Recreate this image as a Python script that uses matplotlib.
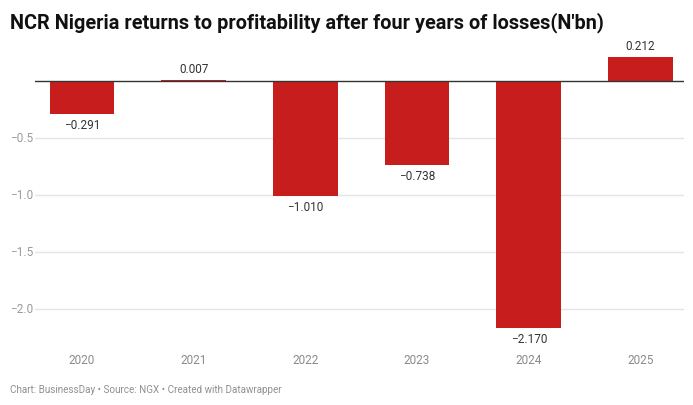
import matplotlib
matplotlib.use("Agg")
import matplotlib.pyplot as plt
from matplotlib.transforms import blended_transform_factory

plt.rcParams['font.family'] = ['Roboto', 'DejaVu Sans']

years = ['2020', '2021', '2022', '2023', '2024', '2025']
profit = [-0.291, 0.007, -1.010, -0.738, -2.170, 0.212]
grid_vals = [-0.5, -1.0, -1.5, -2.0]
grid_labels = ['−0.5', '−1.0', '−1.5', '−2.0']

bar_color = '#c71e1d'

fig = plt.figure(figsize=(6.93, 4.05), dpi=100)
ax = fig.add_axes([35/693, (405-341)/405, (684-35)/693, (341-47)/405])

x = range(len(years))
ax.bar(x, profit, width=0.58, color=bar_color, zorder=3)

ax.set_xlim(-0.42, 5.39)
ax.set_ylim(-2.28, 0.3)

for g in grid_vals:
    ax.axhline(g, color='#e5e5e5', lw=1, zorder=1)
ax.axhline(0, color='#333333', lw=1, zorder=4)

for s in ax.spines.values():
    s.set_visible(False)
ax.set_yticks([])
ax.set_xticks(list(x))
ax.set_xticklabels(years, fontsize=8.5, color='#8a8a8a')
ax.tick_params(axis='x', length=0, pad=9)

# y labels, left aligned at figure edge
tr = blended_transform_factory(fig.transFigure, ax.transData)
for g, lab in zip(grid_vals, grid_labels):
    fig.text(10/693, g, lab, transform=tr, ha='left', va='center',
             fontsize=8.5, color='#9a9a9a')

# value labels
for xi, v in zip(x, profit):
    txt = f'{v:.3f}'.replace('-', '−')
    if v < 0:
        ax.annotate(txt, (xi, v), xytext=(0, -3.5), textcoords='offset points',
                    ha='center', va='top', fontsize=8.5, color='#333333')
    else:
        ax.annotate(txt, (xi, v), xytext=(0, 3), textcoords='offset points',
                    ha='center', va='bottom', fontsize=8.5, color='#333333')

fig.text(10/693, 1 - 28/405, "NCR Nigeria returns to profitability after four years of losses(N'bn)",
         ha='left', va='baseline', fontsize=14.3, fontweight='bold', color='#111111')
fig.text(10/693, 1 - 390/405, 'Chart: BusinessDay • Source: NGX • Created with Datawrapper',
         ha='left', va='center', fontsize=7.1, color='#909090')

fig.savefig('out.png', dpi=100)
